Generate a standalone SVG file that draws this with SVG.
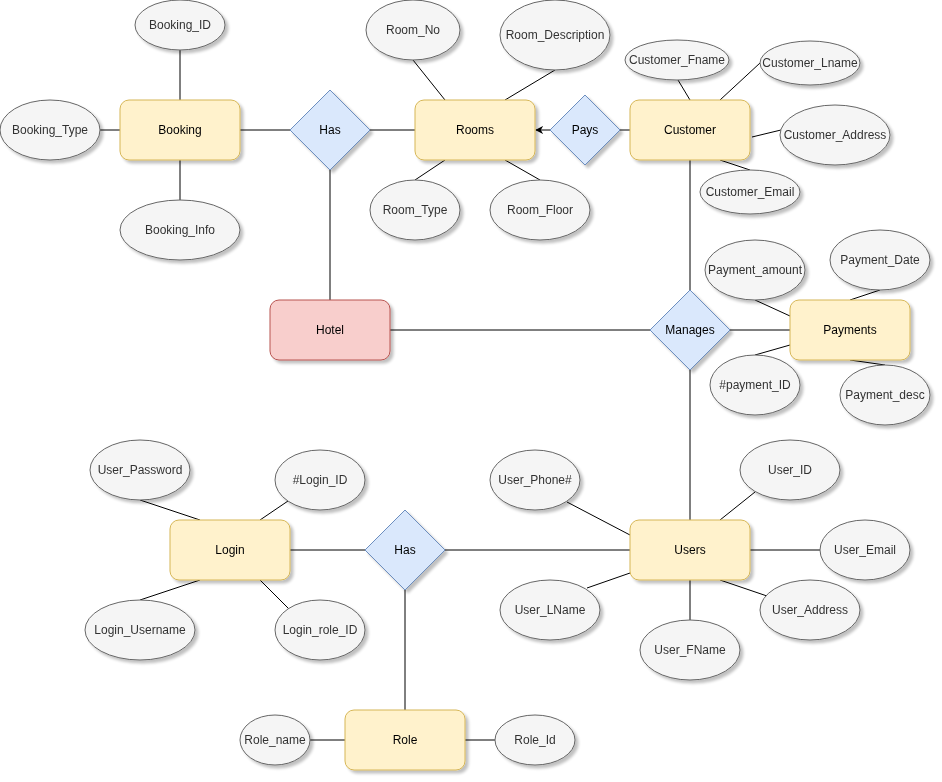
<svg xmlns="http://www.w3.org/2000/svg" width="942" height="782" viewBox="0 0 942 782">
<defs>
<filter id="sh" x="-20%" y="-20%" width="150%" height="150%">
<feGaussianBlur in="SourceAlpha" stdDeviation="1.5"/>
<feOffset dx="3" dy="3" result="b"/>
<feComponentTransfer><feFuncA type="linear" slope="0.25"/></feComponentTransfer>
<feMerge><feMergeNode/><feMergeNode in="SourceGraphic"/></feMerge>
</filter>
<marker id="arr" viewBox="0 0 10 10" refX="9" refY="5" markerWidth="8" markerHeight="8" orient="auto" markerUnits="userSpaceOnUse">
<path d="M0,0 L10,5 L0,10 L3,5 z" fill="#000"/>
</marker>
</defs>
<style>
.ent{fill:#fff2cc;stroke:#d6b656;stroke-width:1}
.hot{fill:#f8cecc;stroke:#b85450;stroke-width:1}
.rel{fill:#dae8fc;stroke:#6c8ebf;stroke-width:1}
.att{fill:#f5f5f5;stroke:#666666;stroke-width:1}
text{font-family:"Liberation Sans",Arial,sans-serif;font-size:12px;fill:#000;text-anchor:middle;dominant-baseline:central}
.at{fill:#333333}
#connectors line{stroke:#000;stroke-width:1;fill:none}
</style>
<rect width="942" height="782" fill="#fff"/>
<g id="connectors">
<line x1="180" y1="50" x2="180" y2="100"/>
<line x1="100" y1="130" x2="120" y2="130"/>
<line x1="180" y1="160" x2="180" y2="200"/>
<line x1="240" y1="130" x2="290" y2="130"/>
<line x1="370" y1="130" x2="415" y2="130"/>
<line x1="330" y1="170" x2="330" y2="300"/>
<line x1="413" y1="60" x2="445" y2="100"/>
<line x1="555" y1="70" x2="505" y2="100"/>
<line x1="415" y1="180" x2="445" y2="160"/>
<line x1="540" y1="180" x2="505" y2="160"/>
<line x1="550" y1="130" x2="536" y2="130" marker-end="url(#arr)"/>
<line x1="620" y1="130" x2="630" y2="130"/>
<line x1="678" y1="80" x2="690" y2="100"/>
<line x1="760" y1="63" x2="720" y2="100"/>
<line x1="781" y1="130" x2="752" y2="137"/>
<line x1="750" y1="170" x2="720" y2="160"/>
<line x1="690" y1="160" x2="690" y2="290"/>
<line x1="390" y1="330" x2="650" y2="330"/>
<line x1="730" y1="330" x2="790" y2="330"/>
<line x1="755" y1="300" x2="790" y2="316"/>
<line x1="880" y1="290" x2="850" y2="300"/>
<line x1="755" y1="355" x2="790" y2="345"/>
<line x1="885" y1="365" x2="850" y2="360"/>
<line x1="690" y1="370" x2="690" y2="520"/>
<line x1="567" y1="502" x2="630" y2="535"/>
<line x1="755" y1="492" x2="720" y2="520"/>
<line x1="750" y1="550" x2="820" y2="550"/>
<line x1="767" y1="596" x2="720" y2="580"/>
<line x1="690" y1="620" x2="690" y2="580"/>
<line x1="587" y1="588" x2="630" y2="573"/>
<line x1="140" y1="500" x2="200" y2="520"/>
<line x1="288" y1="501" x2="260" y2="520"/>
<line x1="140" y1="600" x2="200" y2="580"/>
<line x1="289" y1="609" x2="260" y2="580"/>
<line x1="290" y1="550" x2="365" y2="550"/>
<line x1="445" y1="550" x2="630" y2="550"/>
<line x1="405" y1="590" x2="405" y2="710"/>
<line x1="310" y1="740" x2="345" y2="740"/>
<line x1="465" y1="740" x2="495" y2="740"/>
</g>
<g id="booking" filter="url(#sh)"><rect class="ent" x="120" y="100" width="120" height="60" rx="9"/><text x="180" y="130">Booking</text></g>
<g id="booking_id" filter="url(#sh)"><ellipse class="att" cx="180" cy="25" rx="45" ry="25"/><text class="at" x="180" y="25">Booking_ID</text></g>
<g id="booking_type" filter="url(#sh)"><ellipse class="att" cx="50" cy="130" rx="50" ry="30"/><text class="at" x="50" y="130">Booking_Type</text></g>
<g id="booking_info" filter="url(#sh)"><ellipse class="att" cx="180" cy="230" rx="60" ry="30"/><text class="at" x="180" y="230">Booking_Info</text></g>
<g id="has_top" filter="url(#sh)"><polygon class="rel" points="330,90 370,130 330,170 290,130"/><text x="330" y="130">Has</text></g>
<g id="rooms" filter="url(#sh)"><rect class="ent" x="415" y="100" width="120" height="60" rx="9"/><text x="475" y="130">Rooms</text></g>
<g id="room_no" filter="url(#sh)"><ellipse class="att" cx="413" cy="30" rx="47" ry="30"/><text class="at" x="413" y="30">Room_No</text></g>
<g id="room_desc" filter="url(#sh)"><ellipse class="att" cx="555" cy="35" rx="55" ry="35"/><text class="at" x="555" y="35">Room_Description</text></g>
<g id="room_type" filter="url(#sh)"><ellipse class="att" cx="415" cy="210" rx="45" ry="30"/><text class="at" x="415" y="210">Room_Type</text></g>
<g id="room_floor" filter="url(#sh)"><ellipse class="att" cx="540" cy="210" rx="50" ry="30"/><text class="at" x="540" y="210">Room_Floor</text></g>
<g id="pays" filter="url(#sh)"><polygon class="rel" points="585,95 620,130 585,165 550,130"/><text x="585" y="130">Pays</text></g>
<g id="customer" filter="url(#sh)"><rect class="ent" x="630" y="100" width="120" height="60" rx="9"/><text x="690" y="130">Customer</text></g>
<g id="customer_fname" filter="url(#sh)"><ellipse class="att" cx="677" cy="60" rx="52" ry="20"/><text class="at" x="677" y="60">Customer_Fname</text></g>
<g id="customer_lname" filter="url(#sh)"><ellipse class="att" cx="810" cy="63" rx="50" ry="22"/><text class="at" x="810" y="63">Customer_Lname</text></g>
<g id="customer_address" filter="url(#sh)"><ellipse class="att" cx="835" cy="135" rx="55" ry="30"/><text class="at" x="835" y="135">Customer_Address</text></g>
<g id="customer_email" filter="url(#sh)"><ellipse class="att" cx="750" cy="192" rx="50" ry="22"/><text class="at" x="750" y="192">Customer_Email</text></g>
<g id="hotel" filter="url(#sh)"><rect class="hot" x="270" y="300" width="120" height="60" rx="9"/><text x="330" y="330">Hotel</text></g>
<g id="manages" filter="url(#sh)"><polygon class="rel" points="690,290 730,330 690,370 650,330"/><text x="690" y="330">Manages</text></g>
<g id="payments" filter="url(#sh)"><rect class="ent" x="790" y="300" width="120" height="60" rx="9"/><text x="850" y="330">Payments</text></g>
<g id="payment_amount" filter="url(#sh)"><ellipse class="att" cx="755" cy="270" rx="50" ry="30"/><text class="at" x="755" y="270">Payment_amount</text></g>
<g id="payment_date" filter="url(#sh)"><ellipse class="att" cx="880" cy="260" rx="50" ry="30"/><text class="at" x="880" y="260">Payment_Date</text></g>
<g id="payment_id" filter="url(#sh)"><ellipse class="att" cx="755" cy="385" rx="45" ry="30"/><text class="at" x="755" y="385">#payment_ID</text></g>
<g id="payment_desc" filter="url(#sh)"><ellipse class="att" cx="885" cy="395" rx="45" ry="30"/><text class="at" x="885" y="395">Payment_desc</text></g>
<g id="users" filter="url(#sh)"><rect class="ent" x="630" y="520" width="120" height="60" rx="9"/><text x="690" y="550">Users</text></g>
<g id="user_phone" filter="url(#sh)"><ellipse class="att" cx="535" cy="480" rx="45" ry="30"/><text class="at" x="535" y="480">User_Phone#</text></g>
<g id="user_id" filter="url(#sh)"><ellipse class="att" cx="790" cy="470" rx="50" ry="30"/><text class="at" x="790" y="470">User_ID</text></g>
<g id="user_email" filter="url(#sh)"><ellipse class="att" cx="865" cy="550" rx="45" ry="30"/><text class="at" x="865" y="550">User_Email</text></g>
<g id="user_address" filter="url(#sh)"><ellipse class="att" cx="810" cy="610" rx="50" ry="30"/><text class="at" x="810" y="610">User_Address</text></g>
<g id="user_fname" filter="url(#sh)"><ellipse class="att" cx="690" cy="650" rx="50" ry="30"/><text class="at" x="690" y="650">User_FName</text></g>
<g id="user_lname" filter="url(#sh)"><ellipse class="att" cx="550" cy="610" rx="50" ry="30"/><text class="at" x="550" y="610">User_LName</text></g>
<g id="login" filter="url(#sh)"><rect class="ent" x="170" y="520" width="120" height="60" rx="9"/><text x="230" y="550">Login</text></g>
<g id="user_password" filter="url(#sh)"><ellipse class="att" cx="140" cy="470" rx="50" ry="30"/><text class="at" x="140" y="470">User_Password</text></g>
<g id="login_id" filter="url(#sh)"><ellipse class="att" cx="320" cy="480" rx="45" ry="30"/><text class="at" x="320" y="480">#Login_ID</text></g>
<g id="login_username" filter="url(#sh)"><ellipse class="att" cx="140" cy="630" rx="55" ry="30"/><text class="at" x="140" y="630">Login_Username</text></g>
<g id="login_role_id" filter="url(#sh)"><ellipse class="att" cx="320" cy="630" rx="45" ry="30"/><text class="at" x="320" y="630">Login_role_ID</text></g>
<g id="has_bottom" filter="url(#sh)"><polygon class="rel" points="405,510 445,550 405,590 365,550"/><text x="405" y="550">Has</text></g>
<g id="role" filter="url(#sh)"><rect class="ent" x="345" y="710" width="120" height="60" rx="9"/><text x="405" y="740">Role</text></g>
<g id="role_name" filter="url(#sh)"><ellipse class="att" cx="275" cy="740" rx="35" ry="25"/><text class="at" x="275" y="740">Role_name</text></g>
<g id="role_id" filter="url(#sh)"><ellipse class="att" cx="535" cy="740" rx="40" ry="25"/><text class="at" x="535" y="740">Role_Id</text></g>
</svg>
